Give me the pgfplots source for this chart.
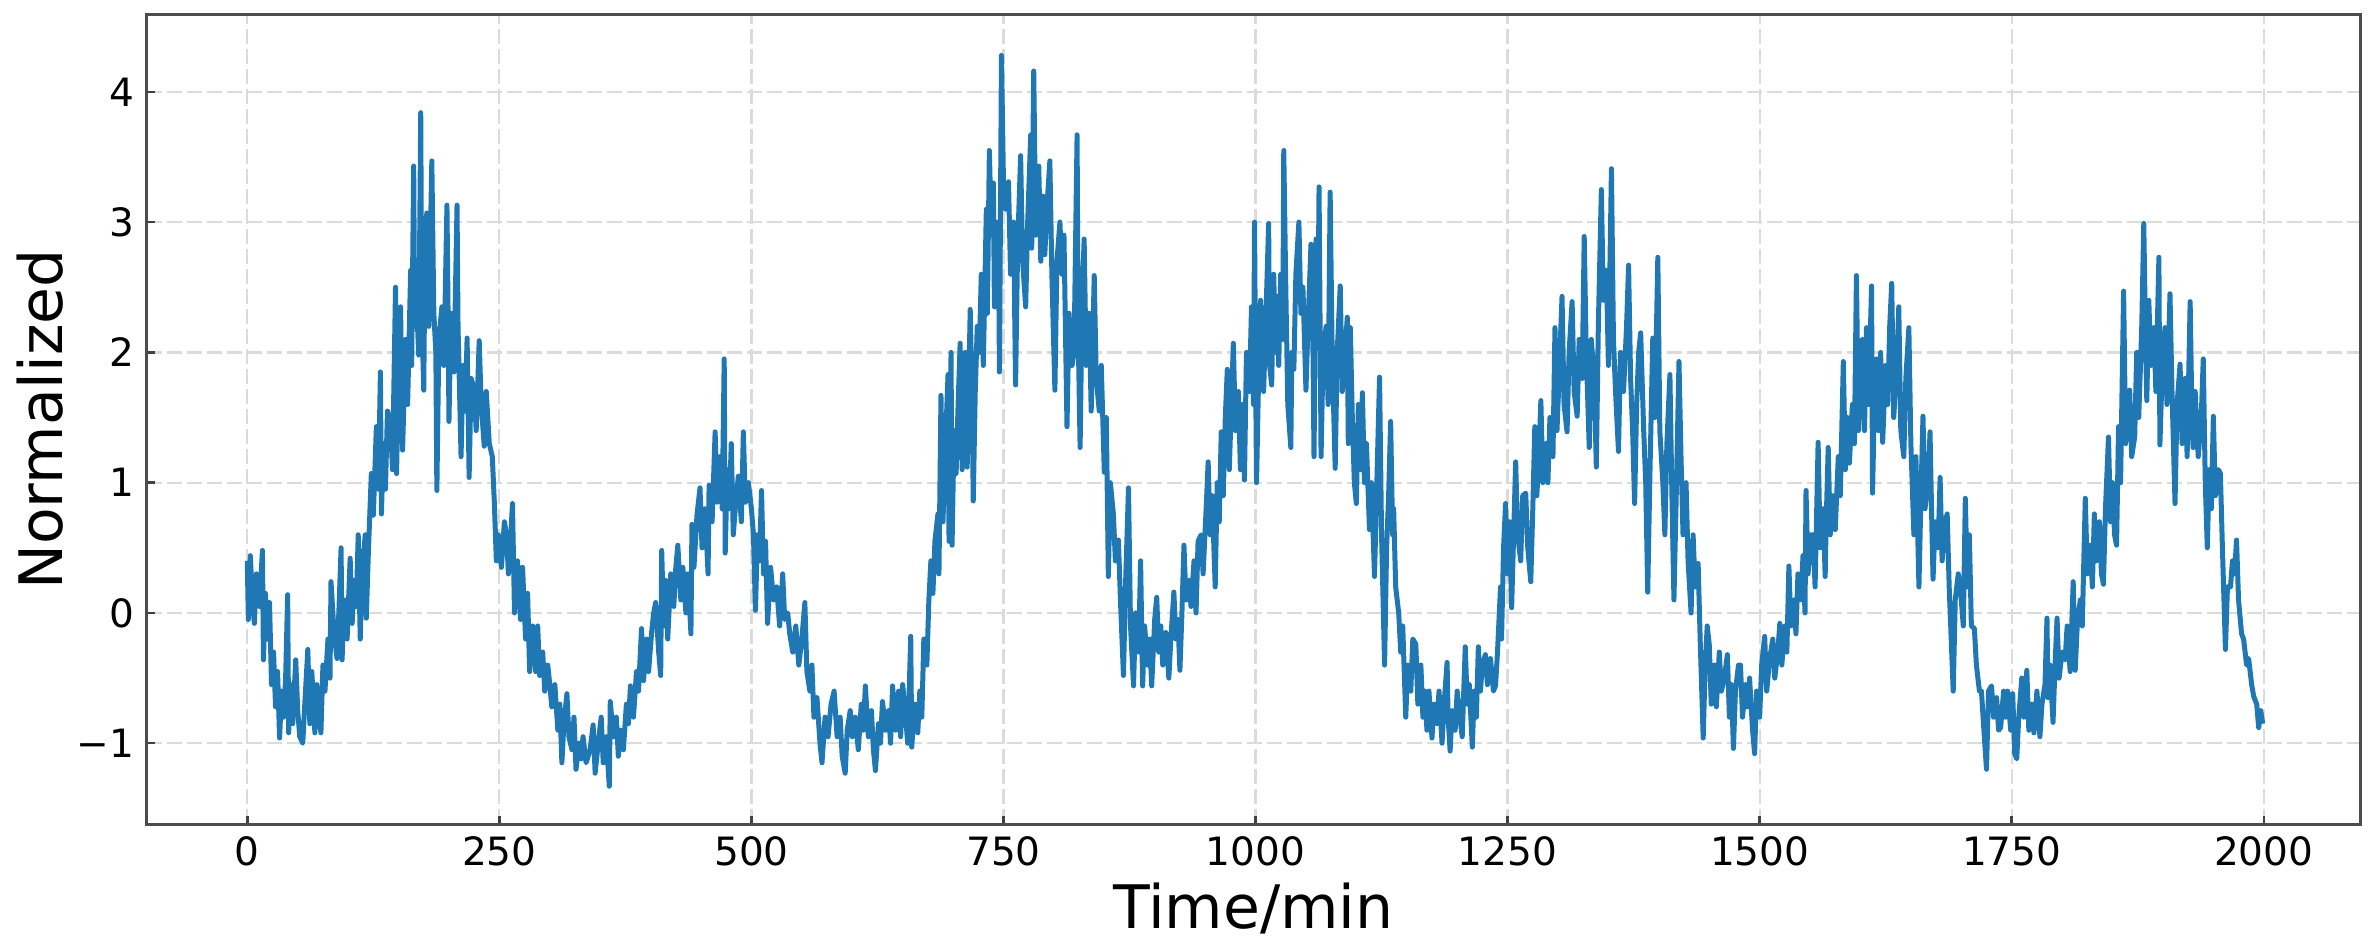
\documentclass[border=0pt]{standalone}
\usepackage{fontspec}
\setmainfont{DejaVu Sans}
\usepackage{pgfplots}
\pgfplotsset{compat=1.18}
\definecolor{mplblue}{HTML}{1F77B4}
\begin{document}
\begin{tikzpicture}
\begin{axis}[
  name=ax,
  scale only axis,
  width=442.6pt, height=161.8pt,
  xmin=-99.5, xmax=2095.5,
  ymin=-1.62, ymax=4.59,
  xtick={0,250,500,750,1000,1250,1500,1750,2000},
  xticklabels={0,250,500,750,1000,1250,1500,1750,2000},
  ytick={-1,0,1,2,3,4},
  yticklabels={−1,0,1,2,3,4},
  tick align=inside, tick pos=left,
  major tick length=1.6pt,
  every tick/.style={black!75, line width=0.5pt},
  axis line style={black!70, line width=0.6pt},
  grid=major,
  major grid style={black!14, line width=0.45pt, dash pattern=on 3pt off 1pt},
  tick label style={font=\fontsize{7.8}{9}\selectfont, inner sep=0pt},
  xticklabel style={anchor=base, yshift=-8.2pt},
  yticklabel style={anchor=east, xshift=-2.4pt},
  xlabel={Time/min}, ylabel={Normalized},
  label style={font=\fontsize{12}{14}\selectfont},
  xlabel style={at={(axis description cs:0.5,-0.1286)}, anchor=base},
  ylabel style={at={(axis description cs:-0.04835,0.5)}, anchor=center},
]
\addplot[mplblue, line width=1.0pt, line join=round] coordinates {
(0,0.40) (1,-0.05) (3,0.44) (5,0.10) (7,-0.08) (9,0.30) (12,0.05) (15,0.48) (16,-0.36) (18,0.15) (20,-0.20) (22,0.08) (24,-0.55) (26,-0.30) (28,-0.72) (30,-0.45) (32,-0.96) (34,-0.60) (36,-0.80) (38,-0.50) (40,0.14) (41,-0.92) (43,-0.55) (45,-0.85) (48,-0.36) (50,-0.75) (52,-0.95) (55,-1.00) (57,-0.70) (60,-0.28) (62,-0.85) (64,-0.45) (67,-0.92) (69,-0.55) (71,-0.78) (73,-0.92) (75,-0.40) (77,-0.60) (80,-0.20) (82,-0.50) (83,0.24) (86,-0.15) (89,-0.35) (91,0.05) (93,0.50) (94,-0.36) (96,0.10) (99,-0.20) (102,0.42) (104,-0.08) (106,0.25) (108,0.05) (110,0.60) (112,-0.20) (114,0.35) (117,0.60) (118,-0.04) (120,0.45) (123,1.07) (125,0.75) (128,1.43) (130,0.95) (132,1.85) (133,0.76) (135,1.30) (137,0.95) (139,1.55) (142,1.45) (144,1.10) (147,2.50) (148,1.07) (150,1.80) (152,2.35) (154,1.25) (157,2.10) (159,1.60) (162,2.63) (163,1.90) (165,3.43) (166,2.20) (168,2.35) (170,1.98) (172,3.84) (173,2.30) (175,1.71) (176,2.60) (178,3.07) (180,2.20) (183,3.47) (185,2.30) (187,2.00) (188,0.94) (190,2.10) (193,2.35) (195,1.90) (198,3.13) (199,2.40) (200,1.47) (202,2.30) (205,1.85) (208,3.13) (209,2.20) (212,1.20) (214,1.90) (216,1.55) (218,2.11) (220,1.04) (222,1.80) (225,1.72) (227,1.40) (230,2.09) (232,1.60) (235,1.28) (237,1.70) (240,1.30) (243,1.20) (245,0.85) (247,0.40) (249,0.60) (252,0.35) (255,0.70) (257,0.60) (259,0.30) (261,0.55) (263,0.84) (265,0.00) (268,0.40) (271,-0.05)
(273,0.35) (276,-0.20) (278,0.15) (280,-0.45) (283,-0.10) (286,-0.45) (288,-0.10) (290,-0.48) (293,-0.30) (295,-0.60) (298,-0.40) (300,-0.55) (302,-0.72) (305,-0.55) (308,-0.90) (310,-0.70) (312,-1.15) (314,-0.85) (317,-0.62) (319,-0.95) (322,-1.05) (324,-0.80) (326,-1.20) (329,-1.00) (331,-1.12) (333,-0.95) (336,-1.15) (340,-1.05) (343,-0.86) (345,-1.23) (348,-1.00) (351,-0.80) (353,-1.15) (356,-0.95) (359,-1.33) (360,-0.68) (363,-0.95) (366,-0.80) (368,-1.10) (370,-0.90) (373,-1.05) (376,-0.70) (378,-0.85) (380,-0.56) (383,-0.80) (386,-0.45) (388,-0.60) (391,-0.12) (393,-0.52) (396,-0.20) (398,-0.45) (401,-0.15) (403,0.00) (405,0.08) (408,-0.30) (410,-0.48) (411,0.48) (413,-0.10) (415,0.25) (417,-0.20) (420,0.30) (423,0.05) (425,0.35) (427,0.52) (430,0.10) (432,0.35) (435,0.00) (437,0.30) (440,-0.16) (441,0.68) (443,0.35) (446,0.75) (449,0.96) (451,0.50) (454,0.80) (457,0.30) (458,0.98) (461,0.70) (464,1.39) (466,0.85) (469,1.20) (471,0.80) (473,1.95) (474,0.46) (476,1.10) (478,0.80) (480,1.30) (482,0.60) (484,0.80) (487,1.05) (490,0.70) (492,1.39) (494,0.85) (497,1.00) (500,0.80) (502,0.60) (504,0.02) (506,0.60) (508,0.40) (510,0.94) (512,0.30) (514,0.55) (516,-0.08) (519,0.35) (522,0.10) (525,0.20) (528,-0.10) (531,0.30) (533,-0.05) (536,0.00) (538,-0.16) (541,-0.30) (544,-0.10) (547,-0.40) (550,-0.20) (553,0.08) (555,-0.45) (558,-0.60) (560,-0.40) (562,-0.80) (565,-0.65) (568,-1.00) (570,-1.15) (573,-0.80) (576,-0.95) (579,-0.70) (582,-0.60) (585,-0.95) (588,-0.80) (590,-1.10) (593,-1.23) (595,-0.90) (598,-0.75) (600,-0.95) (603,-0.80) (606,-1.05) (609,-0.70) (611,-0.90) (613,-0.56) (616,-0.95) (619,-0.75) (621,-1.05) (623,-1.21) (626,-0.85) (628,-1.00) (630,-0.68) (633,-0.90) (636,-0.75) (638,-1.00) (640,-0.56) (643,-0.90) (646,-0.60) (648,-0.95) (650,-0.55) (653,-0.80) (655,-1.00) (658,-0.18) (659,-1.03) (662,-0.70) (665,-0.92) (667,-0.60) (669,-0.80) (671,-0.20) (674,-0.40) (676,0.10) (678,0.40) (680,0.15) (682,0.55) (685,0.76) (686,0.30) (688,1.67) (690,0.70) (692,1.20) (695,1.83) (696,0.55) (698,2.00) (699,0.52) (701,1.40) (703,1.07) (705,1.60) (707,2.07) (709,1.10) (712,2.00) (714,1.12) (717,2.33) (719,1.60) (720,0.86) (722,1.70) (724,2.20) (726,2.00) (728,2.60) (730,1.90) (733,3.10) (734,2.30) (736,3.55) (738,2.90) (740,3.30) (741,2.35) (743,3.00) (745,2.90) (746,1.85) (748,4.28) (750,3.30)
(752,3.10) (755,3.31) (757,2.60) (760,3.00) (762,1.75) (764,2.80) (767,3.51) (769,2.70) (772,2.35) (774,3.00) (777,3.67) (778,2.80) (780,4.16) (782,2.90) (785,3.43) (787,2.70) (789,3.20) (791,2.75) (793,3.10) (796,3.47) (798,2.60) (801,1.71) (803,2.70) (806,3.00) (808,2.60) (810,2.90) (813,1.43) (815,2.30) (818,1.90) (820,2.00) (823,3.67) (824,2.20) (826,1.27) (828,2.40) (830,2.87) (832,1.90) (835,2.30) (837,1.55) (840,2.59) (842,1.80) (845,1.55) (847,1.90) (850,1.08) (852,1.50) (854,0.28) (856,1.00) (859,0.76) (861,0.40) (864,0.56) (866,0.10) (869,-0.48) (871,0.20) (874,0.96) (876,-0.10) (879,-0.56) (881,0.00) (884,-0.30) (886,0.40) (888,-0.56) (890,-0.10) (893,-0.40) (895,-0.20) (897,-0.56) (900,-0.05) (902,0.12) (904,-0.30) (906,-0.10) (908,-0.40) (911,-0.15) (914,-0.50) (916,-0.20) (919,0.16) (921,-0.20) (923,-0.05) (925,-0.44) (927,0.00) (929,0.52) (931,0.10) (934,0.25) (936,0.05) (939,0.40) (941,0.00) (943,0.55) (946,0.60) (948,0.30) (951,0.80) (953,1.16) (955,0.60) (957,0.90) (960,0.20) (962,1.00) (964,0.70) (966,1.39) (968,0.90) (970,1.50) (972,1.87) (974,1.10) (976,1.60) (978,2.07) (980,1.40) (983,1.70) (985,1.10) (987,1.60) (989,1.02) (991,2.00) (994,1.70) (996,2.35) (998,1.60) (999,3.00) (1000,1.90) (1001,1.00) (1003,1.80) (1005,2.40) (1008,1.70) (1010,2.20) (1013,2.99) (1014,1.90) (1016,1.75) (1018,2.60) (1020,2.00) (1021,2.43) (1023,1.90) (1025,2.60) (1027,2.10) (1028,3.55) (1030,2.50) (1032,1.60) (1035,1.27) (1036,2.00) (1038,1.87) (1040,2.60) (1043,3.00) (1045,2.30) (1047,2.50) (1050,1.71) (1052,2.20) (1055,2.83) (1057,2.00) (1058,1.20) (1060,2.87) (1062,2.30) (1063,3.27) (1065,1.20) (1067,2.00) (1070,2.20) (1072,1.60) (1074,3.23) (1076,2.00) (1079,1.11) (1081,2.00) (1084,2.51) (1086,1.70) (1088,1.90) (1091,2.27) (1092,1.30) (1094,2.19) (1096,1.50) (1098,1.00) (1100,0.84) (1102,1.60) (1104,1.10) (1106,1.69) (1108,1.00) (1110,1.30) (1113,0.64) (1115,1.00) (1118,0.28) (1120,0.90) (1123,1.81) (1125,0.60) (1128,-0.40) (1130,0.50) (1132,0.90) (1134,1.47) (1136,0.60) (1137,0.80) (1139,0.20) (1142,0.00) (1144,-0.30) (1146,-0.10) (1149,-0.80) (1151,-0.40) (1154,-0.60) (1156,-0.20) (1159,-0.24) (1161,-0.70) (1164,-0.40) (1166,-0.80) (1168,-0.60) (1170,-0.90) (1172,-0.60) (1175,-0.96) (1177,-0.70) (1180,-0.85) (1182,-0.60) (1185,-1.00) (1187,-0.70) (1190,-0.38) (1191,-0.80) (1193,-1.06) (1195,-0.75) (1198,-0.90) (1200,-0.60) (1202,-0.76) (1205,-0.95) (1208,-0.26) (1210,-0.70) (1212,-0.55) (1215,-1.03) (1217,-0.60) (1219,-0.80) (1221,-0.26) (1223,-0.60) (1225,-0.40) (1228,-0.32) (1230,-0.55) (1233,-0.35) (1236,-0.60) (1238,-0.56) (1240,-0.30) (1243,0.20) (1244,-0.20) (1246,0.50) (1248,0.84) (1250,0.30)
(1252,0.70) (1254,0.04) (1256,0.60) (1258,1.16) (1260,0.60) (1263,0.40) (1265,0.90) (1268,0.92) (1270,0.50) (1273,0.24) (1275,0.80) (1277,1.43) (1279,0.90) (1281,1.20) (1283,1.63) (1285,1.00) (1288,1.30) (1290,1.00) (1292,1.50) (1295,1.20) (1297,2.19) (1299,1.40) (1301,1.80) (1304,2.43) (1306,1.60) (1309,1.39) (1311,2.00) (1314,2.39) (1316,1.70) (1319,1.51) (1321,2.10) (1324,1.80) (1326,2.89) (1328,2.00) (1331,1.27) (1333,2.10) (1336,1.80) (1338,1.12) (1340,2.20) (1343,3.25) (1345,2.40) (1348,2.63) (1350,1.90) (1353,3.41) (1355,2.10) (1357,1.71) (1360,1.24) (1362,2.00) (1365,1.70) (1368,2.20) (1370,2.67) (1372,1.80) (1374,1.40) (1376,0.84) (1378,1.60) (1380,2.00) (1382,2.15) (1385,1.40) (1387,1.00) (1389,0.16) (1391,1.00) (1394,2.11) (1396,1.50) (1399,2.73) (1401,1.40) (1404,1.00) (1406,0.60) (1408,1.30) (1411,1.83) (1413,0.90) (1415,0.10) (1417,0.80) (1420,1.93) (1422,1.20) (1424,0.60) (1427,1.00) (1429,0.40) (1432,0.00) (1434,0.60) (1436,0.20) (1439,0.38) (1441,-0.20) (1444,-0.96) (1446,-0.40) (1448,-0.10) (1450,-0.24) (1452,-0.70) (1455,-0.40) (1457,-0.72) (1460,-0.30) (1462,-0.60) (1465,-0.50) (1468,-0.32) (1470,-0.80) (1472,-0.55) (1474,-1.04) (1476,-0.60) (1479,-0.40) (1481,-0.40) (1483,-0.80) (1486,-0.55) (1488,-0.72) (1490,-0.50) (1493,-0.90) (1495,-1.08) (1497,-0.60) (1500,-0.80) (1502,-0.40) (1505,-0.18) (1507,-0.60) (1510,-0.35) (1513,-0.20) (1515,-0.50) (1518,-0.30) (1520,-0.08) (1522,-0.40) (1525,-0.10) (1527,-0.30) (1529,0.36) (1531,-0.10) (1534,0.10) (1536,-0.16) (1538,0.30) (1541,0.10) (1543,0.44) (1545,0.00) (1546,0.94) (1548,0.30) (1551,0.60) (1553,0.60) (1555,0.20) (1558,1.31) (1560,0.50) (1563,0.80) (1565,0.28) (1566,0.70) (1568,1.27) (1570,0.60) (1573,0.90) (1575,0.64) (1578,1.20) (1580,0.90) (1583,1.93) (1585,1.10) (1587,1.50) (1589,1.15) (1592,1.60) (1594,1.30) (1596,2.59) (1598,1.40) (1600,1.71) (1602,2.10) (1604,1.40) (1606,2.19) (1608,1.60) (1611,2.51) (1612,0.92) (1614,1.70) (1616,1.95) (1618,1.40) (1620,2.00) (1622,1.31) (1625,1.90) (1627,1.60) (1629,2.20) (1631,2.53) (1633,1.50) (1636,1.90) (1638,2.35) (1640,1.40) (1643,1.20) (1645,1.80) (1648,2.19) (1650,1.30) (1653,0.60) (1655,1.20) (1658,0.20) (1660,0.90) (1662,1.51) (1664,0.80) (1667,1.00) (1669,1.39) (1671,0.60) (1672,0.26) (1674,0.70) (1677,0.50) (1679,1.04) (1681,0.40) (1684,0.70) (1686,0.76) (1688,0.20) (1690,-0.20) (1692,-0.60) (1694,0.10) (1697,0.30) (1699,0.20) (1702,-0.10) (1704,0.88) (1706,0.20) (1708,0.60) (1710,-0.10) (1713,-0.12) (1715,-0.40) (1718,-0.60) (1720,-0.60) (1722,-0.85) (1725,-1.20) (1727,-0.60) (1730,-0.56) (1732,-0.80) (1735,-0.65) (1737,-0.90) (1739,-0.88) (1742,-0.60) (1744,-0.80) (1746,-0.60) (1749,-0.90) (1751,-0.62) (1753,-1.08) (1755,-1.12) (1757,-0.80)
(1760,-0.50) (1762,-0.80) (1765,-0.44) (1767,-0.90) (1770,-0.70) (1772,-0.92) (1775,-0.60) (1778,-0.95) (1780,-0.70) (1783,-0.55) (1785,-0.04) (1786,-0.65) (1788,-0.40) (1791,-0.84) (1793,-0.40) (1795,-0.04) (1797,-0.50) (1800,-0.30) (1803,-0.36) (1805,-0.10) (1808,-0.45) (1811,0.24) (1813,-0.44) (1815,-0.10) (1818,0.10) (1820,-0.10) (1823,0.88) (1825,0.30) (1828,0.52) (1830,0.20) (1832,0.76) (1834,0.40) (1837,0.70) (1839,0.30) (1841,0.22) (1843,0.80) (1846,1.35) (1848,0.70) (1850,1.00) (1852,0.60) (1854,0.52) (1856,1.43) (1858,1.00) (1861,2.47) (1863,1.30) (1865,1.60) (1867,1.71) (1869,1.20) (1872,1.35) (1874,2.00) (1876,1.50) (1879,2.20) (1881,2.99) (1883,2.00) (1884,1.63) (1886,2.40) (1888,1.90) (1891,2.19) (1893,1.70) (1896,2.73) (1897,1.29) (1899,1.80) (1902,2.19) (1904,1.60) (1907,2.45) (1909,1.70) (1912,0.84) (1914,1.60) (1917,1.91) (1919,1.30) (1922,1.80) (1924,1.20) (1927,2.39) (1929,1.40) (1930,1.27) (1932,1.70) (1935,1.20) (1938,1.50) (1940,1.95) (1942,1.00) (1944,0.50) (1946,1.10) (1948,0.80) (1950,1.51) (1952,0.90) (1955,1.10) (1957,1.07) (1959,0.50) (1962,-0.28) (1964,0.20) (1967,0.20) (1969,0.40) (1971,0.30) (1973,0.56) (1975,0.10) (1978,-0.16) (1980,-0.20) (1983,-0.40) (1985,-0.35) (1988,-0.55) (1990,-0.64) (1993,-0.70) (1995,-0.88) (1997,-0.75) (1999,-0.85)
};
\end{axis}
\pgfresetboundingbox
\useasboundingbox ([xshift=-29.4pt,yshift=-24.8pt]ax.south west) rectangle ([xshift=3.8pt,yshift=3pt]ax.north east);
\end{tikzpicture}
\end{document}
